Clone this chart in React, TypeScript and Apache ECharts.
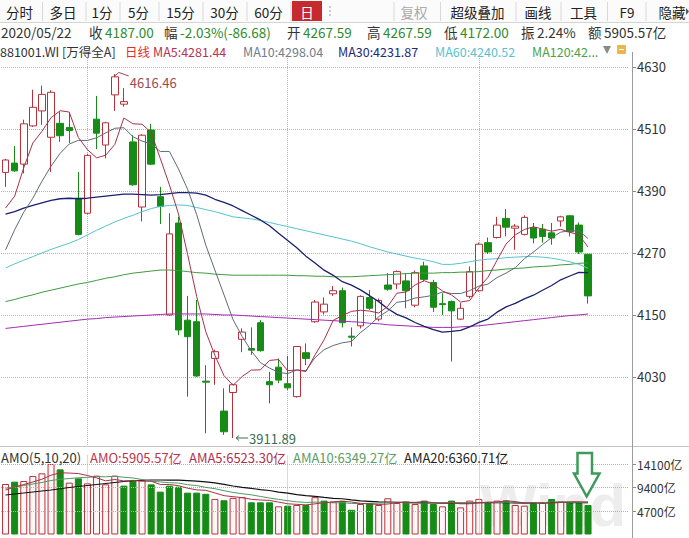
import React, { useEffect, useRef } from 'react';
import * as echarts from 'echarts';

const dates = [
  '2020/02/18','2020/02/19','2020/02/20','2020/02/21','2020/02/24','2020/02/25','2020/02/26','2020/02/27','2020/02/28',
  '2020/03/02','2020/03/03','2020/03/04','2020/03/05','2020/03/06','2020/03/09','2020/03/10','2020/03/11','2020/03/12','2020/03/13',
  '2020/03/16','2020/03/17','2020/03/18','2020/03/19','2020/03/20','2020/03/23','2020/03/24','2020/03/25','2020/03/26','2020/03/27',
  '2020/03/30','2020/03/31',
  '2020/04/01','2020/04/02','2020/04/03','2020/04/07','2020/04/08','2020/04/09','2020/04/10','2020/04/13','2020/04/14','2020/04/15',
  '2020/04/16','2020/04/17','2020/04/20','2020/04/21','2020/04/22','2020/04/23','2020/04/24','2020/04/27','2020/04/28','2020/04/29',
  '2020/04/30',
  '2020/05/06','2020/05/07','2020/05/08','2020/05/11','2020/05/12','2020/05/13','2020/05/14','2020/05/15','2020/05/18','2020/05/19',
  '2020/05/20','2020/05/21','2020/05/22'
];
const emptySlots = ['_a', '_b', '_c', '_d'];
const monthStarts = ['2020/03/02', '2020/04/01', '2020/05/06'];

const opens = [4426,4444,4442,4516,4545,4494,4521,4513,4376,4347,4529,4479,4576,4558,4485,4359,4508,4379,4150,4328,4140,4137,4022,4066,3964,4000,4103,4085,4135,4021,4049,4017,3992,4077,4137,4156,4191,4197,4109,4129,4184,4142,4208,4210,4216,4169,4245,4213,4172,4176,4142,4186,4197,4290,4300,4337,4318,4306,4319,4316,4309,4332,4342,4324,4267.59];
const closes = [4450,4429,4520,4552,4577,4581,4497,4507,4306,4459,4502,4522,4611,4563,4402,4498,4442,4360,4307,4121,4108,4032,4020,4079,3924,4015,4117,4082,4081,4015,4024,4009,4089,4066,4175,4171,4197,4135,4107,4186,4163,4178,4200,4234,4197,4232,4219,4165,4170,4158,4163,4234,4287,4272,4324,4320,4322,4339,4299,4302,4299,4340,4311,4272,4187];
const lows = [4398,4427,4424,4514,4518,4427,4485,4483,4304,4345,4471,4453,4545,4553,4400,4331,4440,4326,4148,4111,3992,4030,3921,4015,3918,3911.89,4078,4073,4079,3979,4018,4005,3990,4053,4135,4151,4187,4126,4089,4124,4160,4138,4197,4200,4163,4165,4215,4156,4150,4060,4140,4182,4195,4268,4298,4302,4276,4304,4289,4290,4286,4321,4302,4268,4172];
const highs = [4452,4477,4528,4586,4594,4585,4544,4541,4427,4462,4574,4524,4616.46,4589,4498,4500,4520,4398,4347,4340,4187,4179,4053,4083,4008,4017,4124,4126,4140,4040,4066,4071,4090,4095,4179,4184,4206,4203,4126,4188,4198,4182,4231,4236,4231,4236,4253,4218,4192,4178,4173,4244,4290,4300,4340,4355,4326,4343,4328,4326,4328,4342,4343,4329,4267.59];

const ma5 = [4357,4380,4435,4483,4505.6,4531.8,4545.4,4542.8,4493.6,4470,4454.2,4459.2,4480,4531.4,4520,4519.2,4503.2,4453,4401.8,4345.6,4267.6,4185.6,4117.6,4072,4032.6,4014,4031,4043.4,4043.8,4062,4063.8,4042.2,4043.6,4040.6,4072.6,4102,4139.6,4148.8,4157,4159.2,4157.6,4153.8,4166.8,4192.2,4194.4,4208.2,4216.4,4209.4,4196.6,4188.8,4175,4178,4202.4,4222.8,4256,4287.4,4305,4315.4,4320.8,4316.4,4312.2,4315.8,4310.2,4304.8,4281.44];
const ma10 = [4276,4315,4349,4376,4409,4438,4463,4481,4488,4487.8,4493,4502.3,4511.4,4512.5,4495,4486.7,4481.2,4466.5,4466.6,4432.8,4393.4,4344.4,4285.3,4236.9,4189.1,4140.8,4108.3,4080.5,4057.9,4047.3,4038.9,4036.6,4043.5,4042.2,4067.3,4082.9,4090.9,4096.2,4098.8,4115.9,4129.8,4146.7,4157.8,4174.6,4176.8,4182.9,4185.1,4188.1,4194.4,4191.6,4191.6,4197.2,4205.9,4209.7,4222.4,4231.2,4241.5,4258.9,4271.8,4286.2,4299.8,4310.4,4312.8,4312.8,4298.04];
const ma30 = [4345,4350,4357,4362,4367,4372,4375,4376,4375,4376,4378,4380,4382,4384,4384,4383,4382,4383,4385,4387,4387,4386,4382,4374,4368,4361,4352,4343,4334,4322.6,4308.4,4294.4,4280.1,4263.9,4250.5,4236.8,4226.8,4214.4,4207.8,4198.7,4187.4,4175.9,4162.2,4151.2,4144.4,4135.5,4128.1,4121.6,4117.0,4118.3,4120.1,4126.8,4135.7,4142.2,4155.5,4165.7,4172.5,4181.1,4188.3,4197.9,4207.1,4218.1,4225.5,4232.4,4231.87];
const ma60 = [4241,4249,4256,4263,4270,4277,4283,4289,4296,4305,4314,4322,4330,4337,4343,4350,4356,4360,4362,4363,4362,4358,4354,4350,4345,4340,4338,4336,4333,4329,4325,4321,4317,4313,4309,4305,4301,4297,4293,4288,4282,4277,4272,4268,4264,4260,4257,4253,4248,4248,4250,4253,4256,4258,4259,4261,4262,4263,4263,4262,4260,4257,4253,4248,4240.52];
const ma120 = [4176,4180,4185,4189,4194,4198,4202,4206,4210,4213,4217,4221,4224,4228,4231,4233,4235,4237,4237,4236,4234,4232,4231,4229,4228,4227,4227,4227,4227,4227,4227,4227,4226,4226,4225,4225,4224,4224,4224,4225,4226,4227,4228,4229,4230,4231,4231,4231,4232,4232,4233,4233,4234,4236,4237,4239,4240,4241,4243,4244,4245,4247,4248,4250,4251];
const ma250 = [4124,4126,4128,4130,4132,4134,4136,4138,4140,4142,4143,4145,4146,4147,4148,4149,4150,4151,4152,4152,4152,4152,4152,4151,4150,4150,4149,4148,4147,4146,4145,4144,4143,4142,4141,4140,4139,4138,4137,4136,4134,4133,4131,4130,4129,4128,4127,4126,4126,4126,4127,4128,4129,4131,4133,4135,4137,4139,4141,4143,4145,4147,4149,4150,4152];

const amo = [10100,10570,10700,11700,12230,14100,13030,10370,11230,10230,11770,10030,11770,9770,10770,10900,10030,8570,9770,9560,8370,8370,8140,7120,6850,7320,7460,6440,6440,6440,5630,5760,5900,5900,7460,6780,6580,6710,4950,6100,6300,5900,7250,6300,6580,6100,6780,6100,5630,6780,5420,6780,7120,6300,6780,6780,5900,5760,6300,6300,7100,6580,6500,6300,5905.57];
const amoUp = [1,0,1,1,1,1,0,1,0,1,1,1,1,0,0,1,0,0,0,0,0,0,0,1,0,1,1,0,0,0,1,0,1,0,1,0,1,0,0,1,0,1,1,1,0,1,0,0,1,0,1,1,1,0,1,0,1,1,0,1,0,1,0,0,0];
const ama5 = [8900,9500,10000,10500,11060,11860,12352,12286,12192,11792,11326,10726,11006,10714,10822,10648,10648,10008,10008,9766,9260,8928,8842,8312,7770,7560,7378,7038,6902,6820,6482,6142,6034,5926,6130,6360,6524,6686,6496,6224,6128,5992,6100,6370,6466,6426,6602,6372,6238,6278,6142,6142,6346,6480,6480,6752,6576,6304,6304,6208,6272,6408,6556,6556,6523.3];
const ama10 = [9240,9500,9800,10100,10400,10800,11040,11200,11350,11426,11593,11539,11646,11453,11307,10987,10687,10507,10361,10294,9954,9788,9425,9160,8768,8410,8153,7940,7607,7295,7021,6760,6536,6414,6475,6421,6333,6360,6211,6177,6244,6258,6393,6433,6345,6277,6297,6236,6304,6372,6284,6372,6359,6359,6379,6447,6359,6325,6392,6344,6512,6492,6430,6430,6349.27];
const ama20 = [7900,8100,8300,8500,8700,8900,9150,9400,9600,9800,10000,10200,10400,10600,10750,10850,10900,10900,10880,10860,10774,10664,10536,10307,10038,9699,9420,9224,8984,8795,8488,8274,7981,7787,7622,7416,7243,7150,6909,6736,6633,6509,6465,6424,6410,6349,6315,6298,6258,6275,6264,6315,6376,6396,6362,6362,6328,6281,6348,6358,6398,6432,6395,6395,6360.71];

const priceTicks = [4030, 4150, 4270, 4390, 4510, 4630];
const volTicks = [4700, 9400, 14100];

const toolTabs = [['分时', 19.5], ['多日', 63], ['1分', 102], ['5分', 138.5], ['15分', 180.5], ['30分', 224.5], ['60分', 268.5]];
const toolRight = [['复权', 414, '#aaaaaa'], ['超级叠加', 477.5, '#222'], ['画线', 538, '#222'], ['工具', 583.5, '#222'], ['F9', 627, '#222'], ['隐藏', 672, '#222']];
const toolSeps = [42.5, 86, 120, 159, 203, 247, 291, 394, 440.5, 516, 561, 607.5, 646];

const quoteLine = [
  ['2020/05/22', 1, 'k'], ['收', 89, 'k'], ['4187.00', 105, 'g'], ['幅', 164, 'k'], ['-2.03%(-86.68)', 180, 'g'],
  ['开', 287, 'k'], ['4267.59', 303, 'g'], ['高', 367, 'k'], ['4267.59', 383, 'g'], ['低', 444, 'k'], ['4172.00', 460, 'g'],
  ['振', 521, 'k'], ['2.24%', 537, 'k'], ['额', 588, 'k'], ['5905.57亿', 604, 'k']
];
const maLegend = [
  ['881001.WI [万得全A]', 0, '#333333'], ['日线', 125, '#e0302c'], ['MA5:4281.44', 153, '#b8334f'],
  ['MA10:4298.04', 243, '#6f7d8c'], ['MA30:4231.87', 338, '#23287a'], ['MA60:4240.52', 435, '#5cc0d2'], ['MA120:42...', 532, '#4aa24a']
];
const volLegend = [
  ['AMO(5,10,20)', 1, '#333333'], ['AMO:5905.57亿', 90, '#c0334a'], ['AMA5:6523.30亿', 189, '#b0304e'],
  ['AMA10:6349.27亿', 293, '#5c9c66'], ['AMA20:6360.71亿', 404, '#222222']
];

const FONT = '"Noto Sans CJK SC", "Noto Sans", sans-serif';
const RED = '#b8303a';
const GREEN = '#168c16';
const GRID_LINE = { type: 'dotted' as const, color: '#b4b4b4', width: 1 };

function txt(text: string, x: number, y: number, fill: string, size = 14, align = 'left', z = 50, extra: any = {}) {
  return {
    type: 'text', x, y, z, silent: true,
    style: { text, fill, fontSize: size, fontFamily: FONT, align, textAlign: align, verticalAlign: 'middle', textVerticalAlign: 'middle', ...extra }
  };
}
function hline(x1: number, x2: number, y: number, stroke: string, z = 40) {
  return { type: 'line', z, silent: true, shape: { x1, y1: y, x2, y2: y }, style: { stroke, lineWidth: 1 } };
}
function vline(x: number, y1: number, y2: number, stroke: string, z = 40) {
  return { type: 'line', z, silent: true, shape: { x1: x, y1, x2: x, y2 }, style: { stroke, lineWidth: 1 } };
}

export default function App() {
  const ref = useRef<HTMLDivElement>(null);
  useEffect(() => {
    if (!ref.current) return;
    const chart = echarts.init(ref.current, null, { renderer: 'svg' });
    const cats = [...dates, ...emptySlots];
    const lineS = (name: string, data: number[], color: string, width = 1, axis = 0) => ({
      name, type: 'line', data, xAxisIndex: axis, yAxisIndex: axis, symbol: 'none', showSymbol: false,
      lineStyle: { color, width }, itemStyle: { color }, z: 5, silent: true, emphasis: { disabled: true }
    });
    const option: any = {
      animation: false,
      backgroundColor: '#ffffff',
      textStyle: { fontFamily: FONT },
      grid: [
        { left: 1, top: 57, width: 628, height: 390 },
        { left: 1, top: 455, width: 628, height: 79.5 }
      ],
      xAxis: [0, 1].map((g) => ({
        type: 'category', gridIndex: g, data: cats, boundaryGap: true,
        axisLine: { show: false }, axisTick: { show: false }, axisLabel: { show: false }, splitLine: { show: false }
      })),
      yAxis: [
        {
          type: 'value', gridIndex: 0, position: 'right', offset: 3, min: 3894.5, max: 4649.35, scale: true,
          splitLine: { show: false }, axisLine: { show: false },
          axisTick: { show: true, customValues: priceTicks, length: 4, lineStyle: { color: '#8a8a8a' } },
          axisLabel: { show: true, customValues: priceTicks, margin: 5, color: '#333333', fontSize: 13, fontFamily: FONT, formatter: (v: number) => String(v) }
        },
        {
          type: 'value', gridIndex: 1, position: 'right', offset: 3, min: 0, max: 15900,
          splitLine: { show: false }, axisLine: { show: false },
          axisTick: { show: true, customValues: volTicks, length: 4, lineStyle: { color: '#8a8a8a' } },
          axisLabel: { show: true, customValues: volTicks, margin: 5, color: '#333333', fontSize: 12, fontFamily: FONT, formatter: (v: number) => String(v) + '亿' }
        }
      ],
      series: [
        {
          name: 'K', type: 'candlestick', xAxisIndex: 0, yAxisIndex: 0, barWidth: 7, z: 3, silent: true,
          data: dates.map((_, i) => [opens[i], closes[i], lows[i], highs[i]]),
          itemStyle: { color: '#ffffff', color0: GREEN, borderColor: RED, borderColor0: GREEN, borderWidth: 1 },
          markLine: {
            silent: true, symbol: ['none', 'none'], label: { show: false }, lineStyle: GRID_LINE, emphasis: { disabled: true }, z: 1,
            data: [...priceTicks.map((v) => ({ yAxis: v })), ...monthStarts.map((d) => ({ xAxis: d }))]
          }
        },
        lineS('MA250', ma250, '#a42ab4'),
        lineS('MA120', ma120, '#3f9a3f'),
        lineS('MA60', ma60, '#56c2cf'),
        lineS('MA30', ma30, '#1c1f6e', 1.3),
        lineS('MA10', ma10, '#5d6b78'),
        lineS('MA5', ma5, '#a8304c'),
        {
          name: 'AMO', type: 'bar', xAxisIndex: 1, yAxisIndex: 1, barWidth: 7, z: 3, silent: true,
          data: amo.map((v, i) => ({
            value: v,
            itemStyle: amoUp[i]
              ? { color: '#fff6f6', borderColor: RED, borderWidth: 1 }
              : { color: GREEN, borderColor: GREEN, borderWidth: 1 }
          })),
          markLine: {
            silent: true, symbol: ['none', 'none'], label: { show: false }, lineStyle: GRID_LINE, emphasis: { disabled: true },
            data: [...volTicks.map((v) => ({ yAxis: v })), ...monthStarts.map((d) => ({ xAxis: d }))]
          }
        },
        lineS('AMA20', ama20, '#111111', 1.2, 1),
        lineS('AMA10', ama10, '#4f9a5e', 1, 1),
        lineS('AMA5', ama5, '#a8304c', 1, 1)
      ]
    };
    chart.setOption(option);

    const hiIdx = highs.indexOf(Math.max(...highs));
    const loIdx = lows.indexOf(Math.min(...lows));
    const ph = chart.convertToPixel({ gridIndex: 0 }, [dates[hiIdx], highs[hiIdx]]) as number[];
    const pl = chart.convertToPixel({ gridIndex: 0 }, [dates[loIdx], lows[loIdx]]) as number[];

    const g: any[] = [];
    // toolbar
    g.push({ type: 'rect', z: 30, silent: true, shape: { x: 0, y: 0, width: 689, height: 22 }, style: { fill: '#fbfbfb' } });
    g.push(hline(0, 689, 22.5, '#d4d4d4'));
    toolSeps.forEach((x) => g.push(vline(x, 2, 21, '#d8d8d8')));
    toolTabs.forEach(([t, x]) => g.push(txt(t as string, x as number, 11.5, '#222222', 13.5, 'center')));
    g.push({ type: 'rect', z: 45, silent: true, shape: { x: 292, y: 1, width: 30, height: 20 }, style: { fill: '#c52a2c' } });
    g.push(txt('日', 307, 11.5, '#ffffff', 13.5, 'center', 50));
    [6, 10, 14].forEach((y) => g.push({ type: 'rect', z: 45, silent: true, shape: { x: 329, y, width: 2, height: 2 }, style: { fill: '#cccccc' } }));
    toolRight.forEach(([t, x, c]) => g.push(txt(t as string, x as number, 11.5, c as string, 13.5, 'center')));
    g.push({ type: 'polygon', z: 45, silent: true, shape: { points: [[686, 8], [689, 11.5], [686, 15]] }, style: { fill: '#555555' } });
    // quote line
    quoteLine.forEach(([t, x, c]) => g.push(txt(t as string, x as number, 32, c === 'g' ? '#2e8b2e' : '#333333', 13.5)));
    // MA legend
    maLegend.forEach(([t, x, c]) => g.push(txt(t as string, x as number, 51, c as string, 12.5)));
    g.push({ type: 'polygon', z: 50, silent: true, shape: { points: [[603, 46], [611, 46], [607, 54]] }, style: { fill: '#8a8a8a' } });
    g.push({ type: 'rect', z: 50, silent: true, shape: { x: 617, y: 45, width: 9, height: 9, r: 1 }, style: { fill: '#e9b64a' } });
    g.push(hline(619, 624, 49.5, '#ffffff', 51));
    // frame lines
    g.push(hline(0, 689, 446.5, '#c4c4c4'));
    g.push(vline(632.5, 52, 538, '#9c9c9c'));
    // volume legend
    volLegend.forEach(([t, x, c]) => g.push(txt(t as string, x as number, 457.5, c as string, 13)));
    // watermark
    g.push({
      type: 'text', x: 480, y: 505, z: 0, silent: true,
      style: { text: 'Wind', fill: '#ededed', fontSize: 60, fontWeight: 'bold', fontFamily: '"Liberation Sans", Arial, sans-serif', align: 'left', verticalAlign: 'middle' }
    });
    // high annotation
    g.push({
      type: 'polyline', z: 60, silent: true,
      shape: { points: [[ph[0], ph[1] + 2], [ph[0] + 4, ph[1] - 1.5], [ph[0] + 14, ph[1] + 2]] },
      style: { stroke: '#a04850', lineWidth: 1, fill: 'none' }
    });
    g.push(txt(highs[hiIdx].toFixed(2), ph[0] + 15, ph[1] + 8.5, '#a04850', 13, 'left', 60));
    // low annotation
    g.push({
      type: 'polyline', z: 60, silent: true,
      shape: { points: [[pl[0] + 6, pl[1] - 2.5], [pl[0] + 3, pl[1]], [pl[0] + 6, pl[1] + 2.5]] },
      style: { stroke: '#3c6e52', lineWidth: 1, fill: 'none' }
    });
    g.push({ type: 'line', z: 60, silent: true, shape: { x1: pl[0] + 3, y1: pl[1], x2: pl[0] + 15, y2: pl[1] }, style: { stroke: '#3c6e52', lineWidth: 1 } });
    g.push(txt(lows[loIdx].toFixed(2), pl[0] + 16, pl[1], '#3c6e52', 13, 'left', 60));
    // green arrow
    g.push({
      type: 'polygon', z: 80, silent: true,
      shape: { points: [[577.5, 453], [592, 453], [592, 473.5], [599.5, 473.5], [586.7, 496.5], [574, 473.5], [577.5, 473.5]] },
      style: { stroke: '#3e9a5a', lineWidth: 2.5, fill: 'rgba(255,255,255,0.85)' }
    });

    chart.setOption({ graphic: { elements: g } });
    return () => chart.dispose();
  }, []);
  return <div ref={ref} style={{ position: 'absolute', left: 0, top: 0, width: 689, height: 538, background: '#ffffff' }} />;
}
